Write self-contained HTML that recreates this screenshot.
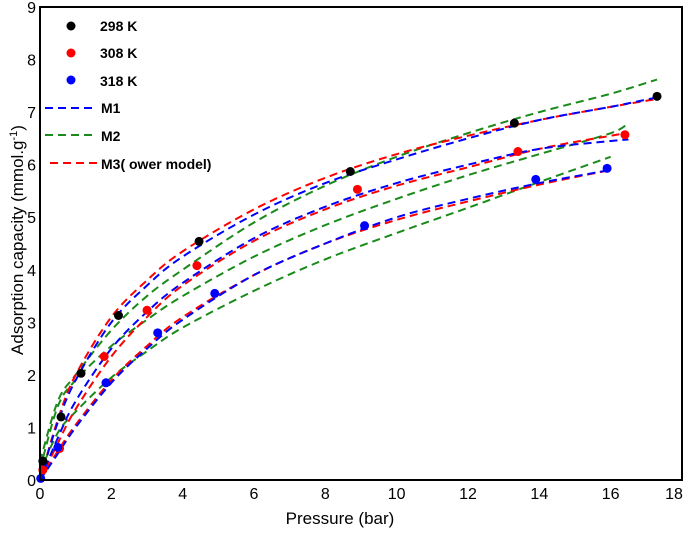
<!DOCTYPE html>
<html><head><meta charset="utf-8"><style>
body{margin:0;background:#fff}
svg text{font-family:"Liberation Sans",sans-serif}
</style></head><body>
<svg id="c" width="685" height="529"></svg>
<script>
const xTicks=[0,2,4,6,8,10,12,14,16,18];
const yTicks=[0,1,2,3,4,5,6,7,8,9];
const p298=[0.08,0.59,1.15,2.2,4.46,8.7,13.3,17.3];
const q298=[0.36,1.2,2.03,3.13,4.54,5.87,6.79,7.3];
const p308=[0.08,0.55,1.8,3.0,4.4,8.9,13.4,16.4];
const q308=[0.19,0.6,2.35,3.23,4.08,5.53,6.25,6.57];
const p318=[0.02,0.5,1.85,3.3,4.9,9.1,13.9,15.9];
const q318=[0.03,0.62,1.85,2.8,3.55,4.84,5.72,5.93];
const mp298=[0,0.5,1,2,3,4,6,8,10,12,14,16,17.3];
const m1_298=[0,1.1,1.9,3.0,3.7,4.25,5.05,5.65,6.1,6.5,6.85,7.1,7.28];
const m2_298=[0.35,1.5,2.0,2.85,3.5,4.0,4.9,5.6,6.15,6.6,7.0,7.35,7.62];
const m3_298=[0,1.15,2.0,3.1,3.8,4.35,5.15,5.75,6.2,6.55,6.85,7.1,7.25];
const mp308=[0,0.5,1,2,3,4,6,8,10,12,14,16,16.5];
const m1_308=[0,0.8,1.5,2.5,3.2,3.75,4.6,5.2,5.65,6.0,6.3,6.45,6.48];
const m2_308=[0.2,1.4,1.9,2.55,3.05,3.5,4.25,4.85,5.35,5.8,6.2,6.6,6.8];
const m3_308=[0,0.7,1.35,2.35,3.1,3.7,4.55,5.15,5.6,5.95,6.3,6.55,6.6];
const mp318=[0,0.5,1,2,3,4,6,8,10,12,14,16];
const m1_318=[0,0.5,1.0,1.85,2.5,3.05,3.9,4.5,5.0,5.35,5.65,5.9];
const m2_318=[0.15,0.9,1.3,1.95,2.45,2.9,3.6,4.2,4.7,5.18,5.67,6.15];
const m3_318=[0,0.55,1.05,1.9,2.55,3.1,3.9,4.5,4.95,5.3,5.62,5.9];

const L=40,R=682,T=7,B=480,NS="http://www.w3.org/2000/svg";
const sx=v=>L+(v-0)/18*(R-L), sy=v=>B-v/9*(B-T);
const svg=document.getElementById('c');
function mk(t,a,parent){const e=document.createElementNS(NS,t);for(const k in a)e.setAttribute(k,a[k]);(parent||svg).appendChild(e);return e;}
function smooth(xs,ys){let pts=xs.map((x,i)=>[sx(x),sy(ys[i])]);let d='M'+pts[0][0]+','+pts[0][1];
 for(let i=0;i<pts.length-1;i++){const p0=pts[i-1]||pts[i],p1=pts[i],p2=pts[i+1],p3=pts[i+2]||p2;
 d+=' C'+(p1[0]+(p2[0]-p0[0])/6)+','+(p1[1]+(p2[1]-p0[1])/6)+' '+(p2[0]-(p3[0]-p1[0])/6)+','+(p2[1]-(p3[1]-p1[1])/6)+' '+p2[0]+','+p2[1];}
 return d;}
const models=[[mp298,m2_298,'#1a8a1a','m2-298'],[mp308,m2_308,'#1a8a1a','m2-308'],[mp318,m2_318,'#1a8a1a','m2-318'],
[mp298,m3_298,'#ff0000','m3-298'],[mp308,m3_308,'#ff0000','m3-308'],[mp318,m3_318,'#ff0000','m3-318'],
[mp298,m1_298,'#0000ff','m1-298'],[mp308,m1_308,'#0000ff','m1-308'],[mp318,m1_318,'#0000ff','m1-318']];
models.forEach(m=>{const e=mk('path',{d:smooth(m[0],m[1]),fill:'none',stroke:m[2],'stroke-width':2,'stroke-dasharray':'8,5'});

});
[[p298,q298,'#000','298'],[p308,q308,'#ff0000','308'],[p318,q318,'#0000ff','318']].forEach(s=>{
 s[0].forEach((p,i)=>{const c=mk('circle',{cx:sx(p),cy:sy(s[1][i]),r:4.5,fill:s[2]});
 
 });});
const fr=mk('rect',{x:L,y:T,width:R-L,height:B-T,fill:'none',stroke:'#000','stroke-width':2});


xTicks.forEach(v=>{const t=mk('text',{x:Math.min(sx(v),674),y:B+19,'text-anchor':'middle','font-size':16});t.textContent=v;

});
yTicks.forEach(v=>{const t=mk('text',{x:L-4,y:sy(v)+6,'text-anchor':'end','font-size':16});t.textContent=v;

});
</script>
<svg style="position:absolute;left:0;top:0" width="685" height="529">
<text x="340" y="524" text-anchor="middle" font-size="17">Pressure (bar)</text>
<text transform="translate(23,240) rotate(-90)" text-anchor="middle" font-size="17">Adsorption capacity (mmol.g<tspan dy="-6" font-size="11">-1</tspan><tspan dy="6">)</tspan></text>
<g font-size="14" font-weight="bold">
<circle cx="71" cy="26" r="4.5" fill="#000"/><text x="100" y="31">298 K</text>
<circle cx="71" cy="53" r="4.5" fill="#ff0000"/><text x="100" y="58">308 K</text>
<circle cx="71" cy="80" r="4.5" fill="#0000ff"/><text x="100" y="86">318 K</text>
<line x1="45" y1="108" x2="97" y2="108" stroke="#0000ff" stroke-width="2" stroke-dasharray="8,5"/><text x="101" y="113">M1</text>
<line x1="45" y1="135" x2="97" y2="135" stroke="#1a8a1a" stroke-width="2" stroke-dasharray="8,5"/><text x="101" y="141">M2</text>
<line x1="50" y1="163" x2="102" y2="163" stroke="#ff0000" stroke-width="2" stroke-dasharray="8,5"/><text x="101" y="169">M3( ower model)</text>
</g>
</svg>
</body></html>
